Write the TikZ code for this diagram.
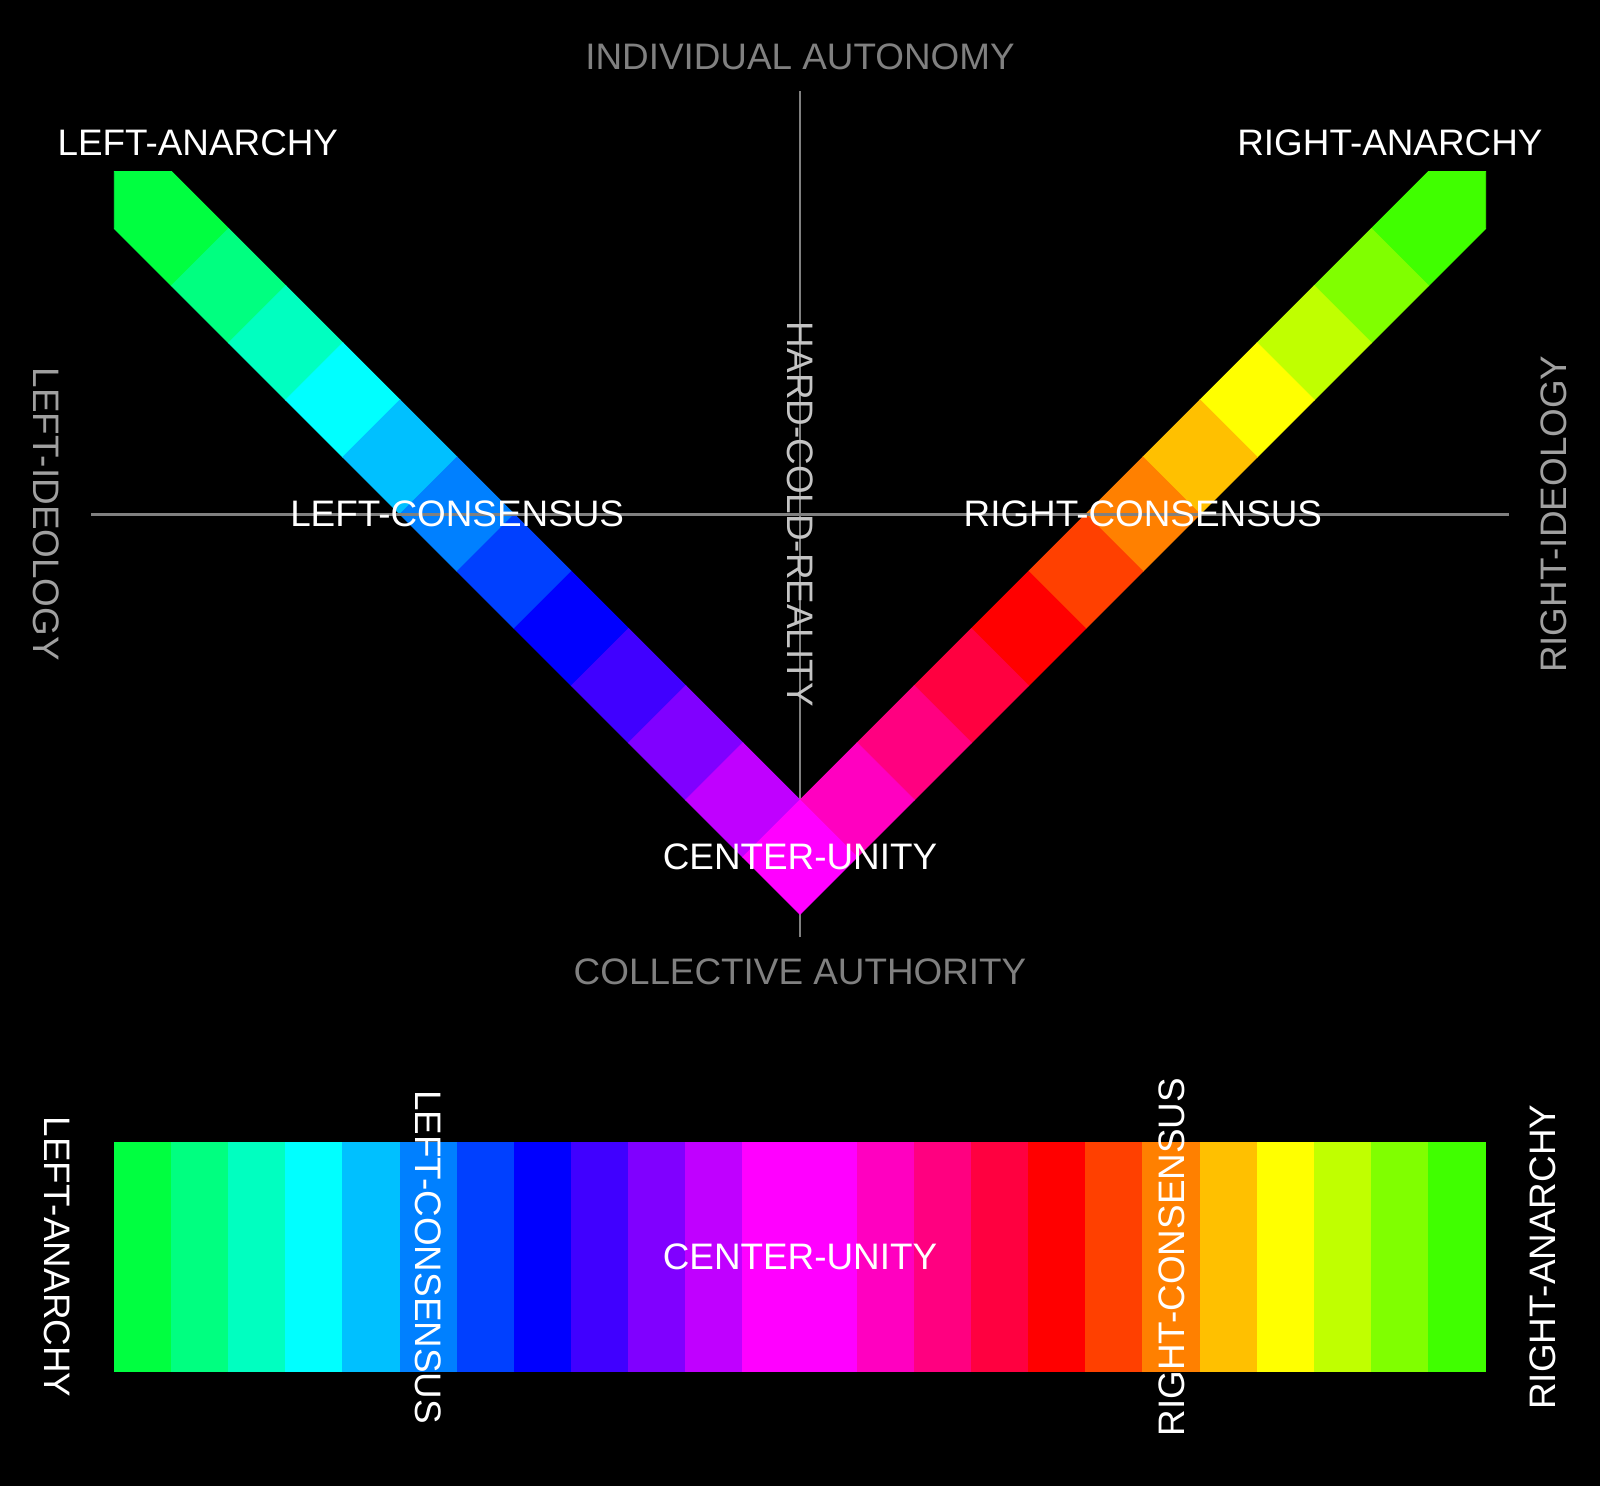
\documentclass[tikz,border=0pt]{standalone}
\usepackage{fontspec}
\setmainfont{Liberation Sans}
\definecolor{axisgray}{HTML}{808080}
\definecolor{idgray}{HTML}{A0A0A0}
\definecolor{realgray}{HTML}{C4C4C4}
\begin{document}
\begin{tikzpicture}[x=1cm,y=-1cm,
  lbl/.style={font=\fontsize{18.35}{20}\selectfont, inner sep=0pt, text=white},
  axlbl/.style={lbl, text=axisgray},
  idlbl/.style={lbl, text=idgray},
  reallbl/.style={lbl, text=realgray},
  axisline/.style={draw=axisgray, line width=1.2pt},
  patch/.style={fill=tmp, draw=tmp, line width=0.4pt, line join=miter}]
% background and bounds
\fill[black] (0,0) rectangle (28,26);
\useasboundingbox (0,0) rectangle (28,26);
% axis end points
\coordinate (vt) at (14,1.6);
\coordinate (vb) at (14,16.4);
\coordinate (hl) at (1.6,9);
\coordinate (hr) at (26.4,9);
% vertical axis (behind the V)
\draw[axisline] (vt) -- (vb);
% left arm
\definecolor{tmp}{HTML}{00FF40}
\path[patch] (2,3) -- (3,3) -- (4,4) -- (3,5) -- (2,4) -- cycle;
\foreach \c/\h in {4/00FF80,5/00FFC0,6/00FFFF,7/00C0FF,8/0080FF,9/0040FF,10/0000FF,11/4000FF,12/8000FF,13/C000FF}{
  \definecolor{tmp}{HTML}{\h}
  \path[patch] (\c,\c) -- ({\c+1},{\c+1}) -- (\c,{\c+2}) -- ({\c-1},{\c+1}) -- cycle;
}
% right arm
\definecolor{tmp}{HTML}{40FF00}
\path[patch] (26,3) -- (25,3) -- (24,4) -- (25,5) -- (26,4) -- cycle;
\foreach \c/\h in {4/80FF00,5/C0FF00,6/FFFF00,7/FFC000,8/FF8000,9/FF4000,10/FF0000,11/FF0040,12/FF0080,13/FF00C0}{
  \definecolor{tmp}{HTML}{\h}
  \path[patch] ({28-\c},\c) -- ({27-\c},{\c+1}) -- ({28-\c},{\c+2}) -- ({29-\c},{\c+1}) -- cycle;
}
% center diamond
\definecolor{tmp}{HTML}{FF00FF}
\path[patch] (14,14) -- (15,15) -- (14,16) -- (13,15) -- cycle;
% horizontal axis (over the V)
\draw[axisline] (hl) -- (hr);
% bottom bar
\foreach \i/\h in {0/00FF40,1/00FF80,2/00FFC0,3/00FFFF,4/00C0FF,5/0080FF,6/0040FF,7/0000FF,8/4000FF,9/8000FF,10/C000FF,11/FF00FF,12/FF00FF,13/FF00C0,14/FF0080,15/FF0040,16/FF0000,17/FF4000,18/FF8000,19/FFC000,20/FFFF00,21/C0FF00,22/80FF00,23/40FF00}{
  \definecolor{tmp}{HTML}{\h}
  \path[patch] ({2+\i},20) rectangle ({3+\i},24);
}
% labels, top diagram
\node[axlbl] (ia) at (14,1) {INDIVIDUAL AUTONOMY};
\node[axlbl] (ca) at (14,17) {COLLECTIVE AUTHORITY};
\node[idlbl, rotate=-90] (li) at (0.8,9) {LEFT-IDEOLOGY};
\node[idlbl, rotate=90] (ri) at (27.2,9) {RIGHT-IDEOLOGY};
\node[reallbl, rotate=-90] (hcr) at (14,9) {HARD-COLD-REALITY};
\node[lbl, anchor=west] (la) at (1,2.5) {LEFT-ANARCHY};
\node[lbl, anchor=east] (ra) at (27,2.5) {RIGHT-ANARCHY};
\node[lbl] (lc) at (8,9) {LEFT-CONSENSUS};
\node[lbl] (rc) at (20,9) {RIGHT-CONSENSUS};
\node[lbl] (cu) at (14,15) {CENTER-UNITY};
% labels, bottom bar
\node[lbl, rotate=-90] (bla) at (1,22) {LEFT-ANARCHY};
\node[lbl, rotate=-90] (blc) at (7.5,22) {LEFT-CONSENSUS};
\node[lbl] (bcu) at (14,22) {CENTER-UNITY};
\node[lbl, rotate=90] (brc) at (20.5,22) {RIGHT-CONSENSUS};
\node[lbl, rotate=90] (bra) at (27,22) {RIGHT-ANARCHY};
\end{tikzpicture}
\end{document}
